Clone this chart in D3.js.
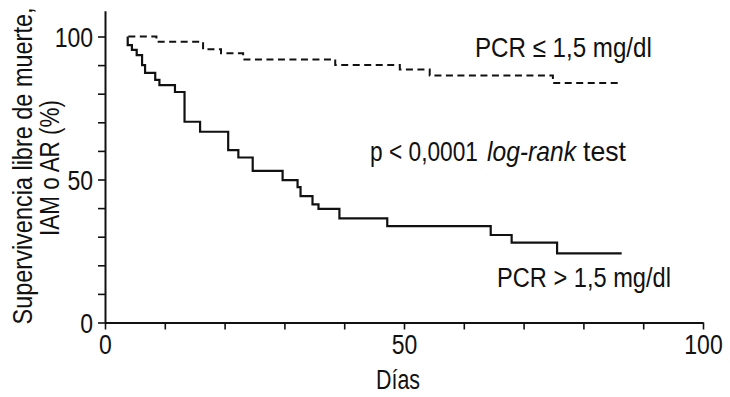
<!DOCTYPE html>
<html><head><meta charset="utf-8">
<script src="https://cdn.jsdelivr.net/npm/d3@7"></script>
<style>
html,body{margin:0;padding:0;background:#fff;}
svg text{font-family:"Liberation Sans",Arial,sans-serif;fill:#111;}
</style></head>
<body>
<svg id="chart" width="730" height="397"></svg>
<script>
// ---- data ----
const xTickValues = [0,10,20,30,40,50,60,70,80,90,100];
const xTickLabels = ["0","","","","","50","","","","","100"];
const yTickValues = [0,10,20,30,40,50,60,70,80,90,100];
const yTickLabels = ["0","","","","","50","","","","","100"];

// PCR > 1,5 mg/dl (solid)
const highDays = [3.8, 3.8, 4.5, 5.3, 6.2, 6.7, 8.4, 9.1, 11.7, 13.3, 15.9, 20.6, 22.3, 24.7, 29.7, 32.2, 32.7, 34.7, 35.7, 39.2, 47.2, 64.5, 68.0, 75.6, 86.4];
const highSurv = [100, 97, 95.3, 93.5, 90, 87.3, 84.8, 83, 80.6, 70.2, 66.7, 60.3, 57.7, 53, 49.8, 47.3, 44.2, 41.3, 39.7, 36.4, 33.7, 30.6, 27.9, 24.2, 24.2];

// PCR <= 1,5 mg/dl (dashed)
const lowDays = [3.9, 8.6, 16.4, 19.4, 23.1, 38.5, 49.3, 54.3, 74.9, 86.1];
const lowSurv = [100, 98.2, 95.5, 94.1, 92.0, 90.0, 88.5, 86.4, 83.7, 83.7];

const labelLow = "PCR \u2264 1,5 mg/dl";
const labelHigh = "PCR > 1,5 mg/dl";
const pText = ["p < 0,0001", "log-rank", "test"];
const xTitle = "D\u00edas";
const yTitle1 = "Supervivencia libre de muerte,";
const yTitle2 = "IAM o AR (%)";

// ---- drawing ----
const FS = "28px";
const svg = d3.select("#chart");
const x = d3.scaleLinear().domain([0,100]).range([105,703]);
const y = d3.scaleLinear().domain([0,109]).range([322.5, 322.5 - 109*2.86]);

// condensed look: squeeze each text horizontally to the width measured in the reference
function fit(sel, w, base){
  const len = sel.node().getComputedTextLength();
  const sx = w/len;
  const ax = +sel.attr("x")||0, ay = +sel.attr("y")||0;
  sel.attr("transform", (base||"") + ` translate(${ax},${ay}) scale(${sx},1) translate(${-ax},${-ay})`);
  return sel;
}
const digitW = 12.8;

const xAxis = d3.axisBottom(x).tickValues(xTickValues)
  .tickFormat((d,i)=>xTickLabels[i]).tickSizeInner(7).tickSizeOuter(0).tickPadding(4);
const yAxis = d3.axisLeft(y).tickValues(yTickValues)
  .tickFormat((d,i)=>yTickLabels[i]).tickSizeInner(7).tickSizeOuter(0).tickPadding(5);

const gx = svg.append("g").attr("transform","translate(0,"+y(0)+")").call(xAxis);
const gy = svg.append("g").attr("transform","translate("+x(0)+",0)").call(yAxis);
[gx,gy].forEach(g=>{
  g.selectAll("path.domain").attr("stroke","#111").attr("stroke-width",2);
  g.selectAll(".tick line").attr("stroke","#111").attr("stroke-width",1.6);
  g.selectAll(".tick text").style("font-size",FS).style("font-family",null);
});
gx.selectAll(".tick text").attr("dy","0.75em");
gy.selectAll(".tick text").attr("dy","0.36em");
[gx,gy].forEach(g=>g.selectAll(".tick text").each(function(){
  const s=d3.select(this); if(s.text()) fit(s, s.text().length*digitW);
}));

const line = d3.line().x(d=>x(d[0])).y(d=>y(d[1])).curve(d3.curveStepAfter);
const highPts = highDays.map((d,i)=>[d, highSurv[i]]);
const lowPts = lowDays.map((d,i)=>[d, lowSurv[i]]);

svg.append("path").datum(highPts).attr("d",line)
  .attr("fill","none").attr("stroke","#111").attr("stroke-width",2.2);
svg.append("path").datum(lowPts).attr("d",line)
  .attr("fill","none").attr("stroke","#111").attr("stroke-width",2)
  .attr("stroke-dasharray","7,4.5");

// annotations
fit(svg.append("text").attr("x",475).attr("y",57).style("font-size",FS).text(labelLow),177);
fit(svg.append("text").attr("x",497).attr("y",287).style("font-size",FS).text(labelHigh),174);
fit(svg.append("text").attr("x",370).attr("y",161).style("font-size",FS).text(pText[0]),108);
fit(svg.append("text").attr("x",487).attr("y",161).style("font-size",FS)
  .style("font-style","italic").text(pText[1]),89);
fit(svg.append("text").attr("x",583).attr("y",161).style("font-size",FS).text(pText[2]),43);

// axis titles
fit(svg.append("text").attr("x",398).attr("y",389).attr("text-anchor","middle")
  .style("font-size",FS).text(xTitle),44);
fit(svg.append("text").attr("x",0).attr("y",0).attr("text-anchor","middle")
  .style("font-size",FS).text(yTitle1),317,"translate(32,166) rotate(-90)");
fit(svg.append("text").attr("x",0).attr("y",0).attr("text-anchor","middle")
  .style("font-size",FS).text(yTitle2),136,"translate(59,168) rotate(-90)");
</script>
</body></html>
